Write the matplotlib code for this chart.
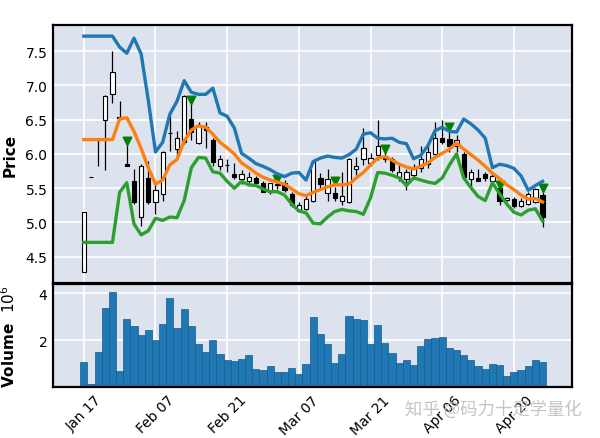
import matplotlib
matplotlib.use("Agg")
import matplotlib.pyplot as plt
import numpy as np

# ---------------- data ----------------
dates = ['Jan 17', 'Feb 07', 'Feb 21', 'Mar 07', 'Mar 21', 'Apr 06', 'Apr 20']
date_idx = [0, 10, 20, 30, 40, 50, 60]

opens = [4.28, 5.66, 6.20, 6.49, 6.88, 6.54, 5.85, 5.61, 5.08, 5.65,
         5.30, 5.41, 6.30, 6.07, 6.18, 6.51, 6.16, 6.40, 6.21, 5.82,
         5.84, 5.71, 5.64, 5.60, 5.65, 5.58, 5.44, 5.55, 5.57, 5.42,
         5.17, 5.20, 5.32, 5.65, 5.43, 5.43, 5.31, 5.30, 5.78, 5.92,
         5.87, 5.98, 5.97, 5.93, 5.67, 5.64, 5.69, 5.79, 5.85, 6.00,
         6.24, 6.22, 6.11, 6.00, 5.63, 5.65, 5.71, 5.61, 5.50, 5.33,
         5.35, 5.24, 5.27, 5.30, 5.40]
highs = [5.15, 5.66, 6.22, 6.86, 7.51, 6.78, 6.17, 5.78, 5.85, 5.90,
         5.61, 6.05, 6.60, 6.33, 6.86, 6.74, 6.47, 6.46, 6.23, 5.99,
         5.92, 5.87, 5.77, 5.73, 5.68, 5.60, 5.58, 5.61, 5.62, 5.44,
         5.30, 5.42, 5.90, 5.72, 5.78, 5.52, 5.73, 5.94, 5.95, 6.38,
         6.02, 6.49, 6.04, 5.96, 5.84, 5.78, 5.85, 6.11, 6.17, 6.46,
         6.49, 6.34, 6.27, 6.03, 5.78, 5.78, 5.74, 5.73, 5.52, 5.37,
         5.37, 5.36, 5.44, 5.50, 5.44]
lows = [4.28, 5.66, 5.82, 5.76, 6.75, 6.50, 5.83, 5.27, 4.95, 5.27,
        5.12, 5.32, 6.04, 5.93, 6.15, 6.20, 6.14, 6.08, 5.83, 5.76,
        5.74, 5.63, 5.56, 5.54, 5.56, 5.44, 5.42, 5.49, 5.45, 5.22,
        5.16, 5.18, 5.30, 5.50, 5.32, 5.31, 5.25, 5.29, 5.70, 5.84,
        5.82, 5.91, 5.89, 5.74, 5.61, 5.47, 5.66, 5.74, 5.80, 5.97,
        6.14, 6.03, 6.03, 5.63, 5.47, 5.60, 5.61, 5.58, 5.25, 5.32,
        5.21, 5.22, 5.25, 5.29, 4.94]
closes = [5.15, 5.66, 6.20, 6.84, 7.20, 6.52, 5.83, 5.30, 5.83, 5.30,
          5.47, 6.03, 6.31, 6.23, 6.85, 6.32, 6.42, 6.35, 5.89, 5.93,
          5.84, 5.66, 5.71, 5.66, 5.58, 5.45, 5.57, 5.56, 5.48, 5.25,
          5.25, 5.34, 5.88, 5.56, 5.64, 5.36, 5.38, 5.93, 5.82, 6.09,
          5.94, 6.12, 5.92, 5.76, 5.73, 5.73, 5.78, 5.93, 6.03, 6.23,
          6.18, 6.12, 6.21, 5.66, 5.73, 5.61, 5.65, 5.68, 5.32, 5.36,
          5.24, 5.32, 5.42, 5.49, 5.08]
volume_m = [1.08, 0.14, 1.48, 3.38, 4.06, 0.70, 2.92, 2.61, 2.21, 2.43,
            2.00, 2.71, 3.80, 2.53, 3.32, 2.61, 1.86, 1.51, 2.00, 1.42,
            1.15, 1.13, 1.19, 1.39, 0.77, 0.72, 0.91, 0.63, 0.63, 0.80,
            0.58, 0.97, 3.01, 2.27, 1.86, 1.05, 1.43, 3.04, 2.92, 2.88,
            1.82, 2.67, 1.89, 1.45, 1.05, 1.17, 0.94, 1.76, 2.04, 2.11,
            2.16, 1.69, 1.58, 1.39, 1.17, 0.88, 0.78, 0.99, 0.95, 0.49,
            0.63, 0.75, 0.88, 1.14, 1.09]
upper = [7.72, 7.72, 7.72, 7.72, 7.72, 7.56, 7.47, 7.69, 7.46, 6.78,
         6.03, 6.17, 6.58, 6.77, 7.07, 6.90, 6.87, 6.87, 6.96, 6.60,
         6.55, 6.38, 6.01, 5.94, 5.86, 5.82, 5.77, 5.71, 5.67, 5.72,
         5.73, 5.62, 5.89, 5.94, 5.97, 5.95, 5.94, 5.99, 6.07, 6.29,
         6.31, 6.23, 6.22, 6.23, 6.17, 6.15, 5.93, 5.98, 6.12, 6.34,
         6.39, 6.33, 6.32, 6.51, 6.44, 6.35, 6.23, 5.80, 5.85, 5.83,
         5.79, 5.68, 5.47, 5.54, 5.60]
middle = [6.21, 6.21, 6.21, 6.21, 6.21, 6.51, 6.53, 6.33, 6.08, 5.80,
          5.56, 5.62, 5.84, 5.92, 6.19, 6.35, 6.41, 6.39, 6.29, 6.17,
          6.09, 6.00, 5.87, 5.80, 5.72, 5.66, 5.62, 5.59, 5.56, 5.49,
          5.42, 5.39, 5.44, 5.48, 5.52, 5.55, 5.55, 5.56, 5.65, 5.73,
          5.84, 5.94, 5.96, 5.91, 5.85, 5.81, 5.78, 5.82, 5.87, 5.95,
          6.01, 6.07, 6.16, 6.07, 5.99, 5.91, 5.82, 5.72, 5.64, 5.55,
          5.48, 5.40, 5.34, 5.35, 5.30]
lower = [4.71, 4.71, 4.71, 4.71, 4.71, 5.44, 5.58, 4.98, 4.82, 4.88,
         5.06, 5.03, 5.08, 5.07, 5.32, 5.80, 5.95, 5.94, 5.74, 5.72,
         5.60, 5.50, 5.60, 5.55, 5.54, 5.49, 5.45, 5.45, 5.40, 5.27,
         5.17, 5.14, 4.99, 4.98, 5.08, 5.16, 5.19, 5.17, 5.16, 5.12,
         5.36, 5.73, 5.72, 5.69, 5.65, 5.54, 5.65, 5.62, 5.59, 5.57,
         5.65, 5.84, 6.00, 5.65, 5.51, 5.38, 5.32, 5.58, 5.42, 5.27,
         5.15, 5.11, 5.18, 5.20, 5.02]
signal_idx = [6, 15, 27, 35, 42, 51, 58, 64]
signal_val = [6.19, 6.79, 5.64, 5.60, 6.07, 6.39, 5.54, 5.50]

# ---------------- styling ----------------
BG = '#dde3ee'
plt.rcParams['font.family'] = ['DejaVu Sans']

fig = plt.figure(figsize=(6.0, 4.39), dpi=100)
ax = fig.add_axes([0.0883, 0.352, 0.865, 0.589])
axv = fig.add_axes([0.0883, 0.116, 0.865, 0.234], sharex=ax)

x = np.arange(len(opens))
o = np.array(opens); c = np.array(closes)
h = np.array(highs); l = np.array(lows)

for a in (ax, axv):
    a.set_facecolor(BG)
    a.grid(True, color='white', linewidth=1.2)
    a.set_axisbelow(True)
    for s in a.spines.values():
        s.set_linewidth(1.6)
        s.set_color('black')
    a.tick_params(length=0, labelsize=10, pad=4)

# candles
ax.vlines(x, l, h, color='black', linewidth=0.9, zorder=2)
body_bottom = np.minimum(o, c)
body_h = np.abs(c - o)
body_col = ['white' if cc >= oo else 'black' for oo, cc in zip(opens, closes)]
ax.bar(x, body_h, bottom=body_bottom, width=0.6, color=body_col,
       edgecolor='black', linewidth=0.8, zorder=3)

# signals
ax.scatter(signal_idx, signal_val, marker='v', s=38, color='green', zorder=3.5)

# bands
ax.plot(x, upper, color='#1f77b4', linewidth=2.4, zorder=4)
ax.plot(x, middle, color='#ff7f0e', linewidth=2.4, zorder=4)
ax.plot(x, lower, color='#2ca02c', linewidth=2.4, zorder=4)

ax.set_ylim(4.11, 7.884)
ax.set_yticks([4.5, 5.0, 5.5, 6.0, 6.5, 7.0, 7.5])
ax.set_ylabel('Price', fontsize=11, fontweight='bold')
ax.set_xlim(-4.3, 68.1)
plt.setp(ax.get_xticklabels(), visible=False)

# volume
axv.bar(x, np.array(volume_m) * 1e6, width=1.0, color='#1f77b4',
        edgecolor='#1a5c8e', linewidth=0.5, zorder=2)
axv.set_ylim(0, 4.39e6)
axv.set_yticks([2e6, 4e6])
axv.set_yticklabels(['2', '4'])
axv.set_ylabel('Volume  $10^{6}$', fontsize=11, fontweight='bold')
axv.set_xticks(date_idx)
axv.set_xticklabels(dates, rotation=45, ha='center', fontsize=10)

ax.yaxis.set_label_coords(-0.068, 0.5)
axv.yaxis.set_label_coords(-0.068, 0.5)

# watermark
fig.text(0.675, 0.068, '知乎 @码力十足学量化', fontsize=12.5,
         color='#bfbfbf', alpha=0.9, va='center', ha='left',
         family=['Noto Sans CJK SC', 'DejaVu Sans'])

fig.savefig('out.png', dpi=100, facecolor='white')
